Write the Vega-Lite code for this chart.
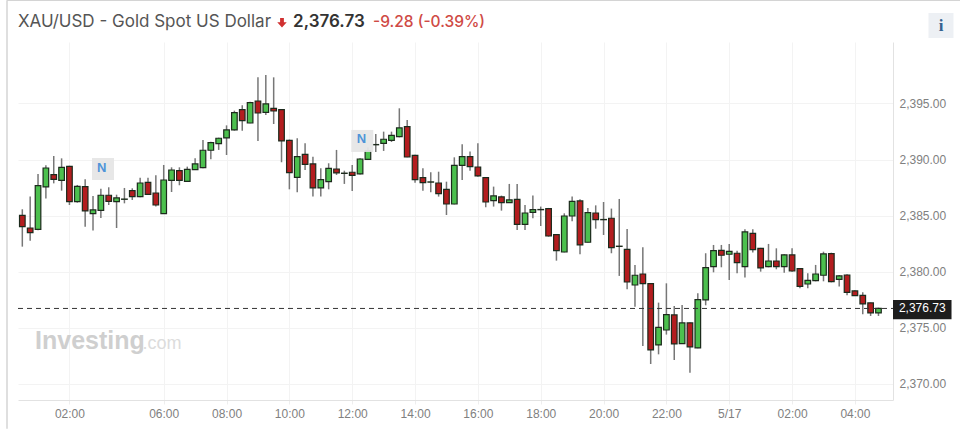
{"$schema":"https://vega.github.io/schema/vega-lite/v6.json","width":875,"height":358,"autosize":"none","padding":{"left":18,"top":42,"right":67,"bottom":29},"background":"#ffffff",
"config":{"view":{"stroke":null},"font":"Liberation Sans"},
"datasets":{"candles":[
{"i":0,"o":2385.03,"h":2385.57,"l":2382.24,"c":2384.02},{"i":1,"o":2383.90,"h":2386.70,"l":2382.77,"c":2383.49},{"i":2,"o":2383.78,"h":2388.72,"l":2383.70,"c":2387.68},{"i":3,"o":2387.56,"h":2389.49,"l":2386.52,"c":2389.25},{"i":4,"o":2388.66,"h":2390.32,"l":2387.88,"c":2388.24},{"i":5,"o":2388.15,"h":2390.11,"l":2387.23,"c":2389.31},{"i":6,"o":2389.40,"h":2389.45,"l":2385.95,"c":2386.25},{"i":7,"o":2386.25,"h":2387.74,"l":2386.16,"c":2387.62},{"i":8,"o":2387.59,"h":2388.24,"l":2384.02,"c":2385.42},{"i":9,"o":2385.18,"h":2386.76,"l":2383.67,"c":2385.51},
{"i":10,"o":2385.48,"h":2387.41,"l":2384.80,"c":2386.82},{"i":11,"o":2386.82,"h":2387.53,"l":2385.95,"c":2386.28},{"i":12,"o":2386.25,"h":2386.87,"l":2383.90,"c":2386.58},{"i":13,"o":2386.46,"h":2387.47,"l":2386.10,"c":2386.48},{"i":14,"o":2387.23,"h":2387.44,"l":2386.40,"c":2386.70},{"i":15,"o":2386.70,"h":2388.39,"l":2386.64,"c":2387.91},{"i":16,"o":2387.97,"h":2388.39,"l":2386.84,"c":2386.90},{"i":17,"o":2387.02,"h":2388.60,"l":2385.81,"c":2385.95},{"i":18,"o":2385.18,"h":2389.52,"l":2385.15,"c":2388.18},{"i":19,"o":2388.15,"h":2389.31,"l":2387.11,"c":2389.07},
{"i":20,"o":2389.01,"h":2389.31,"l":2387.71,"c":2388.15},{"i":21,"o":2388.06,"h":2389.37,"l":2388.00,"c":2389.13},{"i":22,"o":2389.10,"h":2390.11,"l":2389.07,"c":2389.61},{"i":23,"o":2389.28,"h":2391.75,"l":2389.22,"c":2390.83},{"i":24,"o":2390.83,"h":2391.60,"l":2390.02,"c":2391.51},{"i":25,"o":2391.42,"h":2391.95,"l":2390.86,"c":2391.90},{"i":26,"o":2391.93,"h":2393.05,"l":2390.41,"c":2392.64},{"i":27,"o":2392.64,"h":2394.36,"l":2392.58,"c":2394.18},{"i":28,"o":2394.45,"h":2394.84,"l":2392.58,"c":2393.47},{"i":29,"o":2393.26,"h":2395.16,"l":2393.23,"c":2395.07},
{"i":30,"o":2395.22,"h":2397.33,"l":2391.66,"c":2394.15},{"i":31,"o":2394.21,"h":2397.54,"l":2393.98,"c":2394.96},{"i":32,"o":2394.57,"h":2397.33,"l":2393.17,"c":2394.33},{"i":33,"o":2394.45,"h":2394.50,"l":2389.76,"c":2391.66},{"i":34,"o":2391.72,"h":2391.78,"l":2387.35,"c":2388.84},{"i":35,"o":2388.42,"h":2391.90,"l":2387.08,"c":2390.26},{"i":36,"o":2390.47,"h":2391.45,"l":2389.07,"c":2389.58},{"i":37,"o":2389.61,"h":2390.26,"l":2386.70,"c":2387.47},{"i":38,"o":2387.47,"h":2389.22,"l":2386.70,"c":2388.21},{"i":39,"o":2388.03,"h":2389.67,"l":2387.35,"c":2389.22},
{"i":40,"o":2389.16,"h":2390.86,"l":2388.63,"c":2388.81},{"i":41,"o":2388.77,"h":2389.01,"l":2387.83,"c":2388.79},{"i":42,"o":2388.87,"h":2389.52,"l":2387.20,"c":2388.60},{"i":43,"o":2388.72,"h":2390.11,"l":2388.66,"c":2390.05},{"i":44,"o":2390.02,"h":2391.09,"l":2389.96,"c":2390.80},{"i":45,"o":2391.32,"h":2392.28,"l":2390.68,"c":2391.34},{"i":46,"o":2391.45,"h":2392.49,"l":2390.77,"c":2391.81},{"i":47,"o":2391.72,"h":2392.49,"l":2391.57,"c":2392.16},{"i":48,"o":2392.04,"h":2394.57,"l":2391.98,"c":2392.82},{"i":49,"o":2392.94,"h":2393.53,"l":2390.20,"c":2390.23},
{"i":50,"o":2390.38,"h":2390.42,"l":2387.94,"c":2388.21},{"i":51,"o":2388.39,"h":2389.22,"l":2387.23,"c":2387.94},{"i":52,"o":2387.99,"h":2388.87,"l":2387.08,"c":2388.01},{"i":53,"o":2387.91,"h":2388.92,"l":2386.70,"c":2386.96},{"i":54,"o":2387.35,"h":2388.03,"l":2385.06,"c":2386.04},{"i":55,"o":2386.04,"h":2390.20,"l":2386.01,"c":2389.49},{"i":56,"o":2389.49,"h":2391.36,"l":2388.18,"c":2390.26},{"i":57,"o":2390.26,"h":2390.71,"l":2389.01,"c":2389.37},{"i":58,"o":2389.34,"h":2391.45,"l":2388.48,"c":2388.54},{"i":59,"o":2388.39,"h":2388.43,"l":2385.75,"c":2386.22},
{"i":60,"o":2386.34,"h":2387.59,"l":2385.81,"c":2386.76},{"i":61,"o":2386.67,"h":2386.79,"l":2385.45,"c":2386.16},{"i":62,"o":2386.16,"h":2387.83,"l":2386.14,"c":2386.40},{"i":63,"o":2386.46,"h":2387.83,"l":2383.73,"c":2384.23},{"i":64,"o":2384.23,"h":2385.95,"l":2383.73,"c":2385.24},{"i":65,"o":2385.30,"h":2386.79,"l":2384.77,"c":2385.54},{"i":66,"o":2385.53,"h":2385.81,"l":2384.08,"c":2385.55},{"i":67,"o":2385.63,"h":2385.69,"l":2383.13,"c":2383.19},{"i":68,"o":2383.31,"h":2383.35,"l":2380.99,"c":2381.88},{"i":69,"o":2381.76,"h":2385.21,"l":2381.73,"c":2384.97},
{"i":70,"o":2384.97,"h":2386.70,"l":2384.50,"c":2386.28},{"i":71,"o":2386.31,"h":2386.46,"l":2381.56,"c":2382.39},{"i":72,"o":2382.63,"h":2385.69,"l":2382.60,"c":2385.27},{"i":73,"o":2385.24,"h":2385.92,"l":2383.84,"c":2384.65},{"i":74,"o":2384.64,"h":2386.22,"l":2383.28,"c":2384.66},{"i":75,"o":2384.77,"h":2385.63,"l":2381.65,"c":2382.15},{"i":76,"o":2382.26,"h":2386.49,"l":2379.63,"c":2382.28},{"i":77,"o":2382.00,"h":2383.81,"l":2378.44,"c":2379.09},{"i":78,"o":2378.82,"h":2380.61,"l":2376.89,"c":2379.69},{"i":79,"o":2379.80,"h":2382.18,"l":2373.39,"c":2378.94},
{"i":80,"o":2378.94,"h":2378.98,"l":2371.78,"c":2373.03},{"i":81,"o":2373.48,"h":2377.25,"l":2372.64,"c":2375.05},{"i":82,"o":2374.81,"h":2378.97,"l":2374.40,"c":2376.18},{"i":83,"o":2376.15,"h":2376.95,"l":2372.14,"c":2373.57},{"i":84,"o":2373.59,"h":2377.04,"l":2373.57,"c":2375.44},{"i":85,"o":2375.44,"h":2375.48,"l":2371.01,"c":2373.30},{"i":86,"o":2373.21,"h":2378.08,"l":2373.18,"c":2377.52},{"i":87,"o":2377.49,"h":2381.65,"l":2377.01,"c":2380.37},{"i":88,"o":2380.46,"h":2382.39,"l":2379.95,"c":2381.88},{"i":89,"o":2381.91,"h":2382.39,"l":2380.40,"c":2381.47},
{"i":90,"o":2381.56,"h":2382.48,"l":2379.27,"c":2381.82},{"i":91,"o":2381.65,"h":2381.88,"l":2379.86,"c":2380.81},{"i":92,"o":2380.46,"h":2383.78,"l":2379.48,"c":2383.55},{"i":93,"o":2383.43,"h":2383.78,"l":2381.71,"c":2381.97},{"i":94,"o":2382.09,"h":2382.13,"l":2380.01,"c":2380.34},{"i":95,"o":2380.46,"h":2382.48,"l":2380.40,"c":2380.96},{"i":96,"o":2380.96,"h":2382.09,"l":2380.22,"c":2380.46},{"i":97,"o":2380.46,"h":2381.56,"l":2379.92,"c":2381.50},{"i":98,"o":2381.50,"h":2382.09,"l":2380.01,"c":2380.07},{"i":99,"o":2380.28,"h":2380.32,"l":2378.53,"c":2378.70},
{"i":100,"o":2378.91,"h":2379.86,"l":2378.53,"c":2379.24},{"i":101,"o":2379.21,"h":2380.61,"l":2379.15,"c":2379.80},{"i":102,"o":2379.69,"h":2381.79,"l":2379.15,"c":2381.59},{"i":103,"o":2381.62,"h":2381.70,"l":2379.06,"c":2379.12},{"i":104,"o":2379.33,"h":2379.71,"l":2378.68,"c":2379.63},{"i":105,"o":2379.71,"h":2379.77,"l":2377.90,"c":2378.17},{"i":106,"o":2378.29,"h":2378.35,"l":2377.84,"c":2377.87},{"i":107,"o":2377.90,"h":2378.17,"l":2376.21,"c":2377.13},{"i":108,"o":2377.22,"h":2377.25,"l":2376.06,"c":2376.33},{"i":109,"o":2376.33,"h":2376.80,"l":2376.06,"c":2376.73}]},
"layer":[
{"data":{"name":"candles"},"mark":{"type":"rule","stroke":"#777777","strokeWidth":1.5,"clip":false},"encoding":{
"x":{"field":"i","type":"quantitative","scale":{"domain":[-0.55,110.85],"nice":false,"zero":false,"padding":0},"title":null,"axis":{"orient":"bottom","values":[6,18,26,34,42,50,58,66,74,82,90,98,106],"labelExpr":"{'6':'02:00','18':'06:00','26':'08:00','34':'10:00','42':'12:00','50':'14:00','58':'16:00','66':'18:00','74':'20:00','82':'22:00','90':'5/17','98':'02:00','106':'04:00'}[datum.value]","grid":true,"gridColor":"#f3f3f3","domainColor":"#e2e2e2","tickColor":"#eeeeee","tickSize":4,"labelColor":"#808080","labelFontSize":12,"labelPadding":4,"labelFont":"Liberation Sans"}},
"y":{"field":"l","type":"quantitative","scale":{"domain":[2368.57,2400.48],"nice":false,"zero":false},"title":null,"axis":{"orient":"right","values":[2370,2375,2380,2385,2390,2395],"format":",.2f","grid":true,"gridColor":"#f3f3f3","domainColor":"#e2e2e2","ticks":false,"labelColor":"#808080","labelFontSize":12,"labelPadding":6,"labelFont":"Liberation Sans"}},
"y2":{"field":"h"}}},
{"data":{"name":"candles"},"mark":{"type":"bar","size":5.6,"stroke":"#1c2a1c","strokeWidth":1.2},"encoding":{
"x":{"field":"i","type":"quantitative","scale":{"domain":[-0.55,110.85],"nice":false,"zero":false,"padding":0}},
"y":{"field":"o","type":"quantitative","scale":{"domain":[2368.57,2400.48],"nice":false,"zero":false}},"y2":{"field":"c"},
"fill":{"condition":{"test":"datum.c>=datum.o","value":"#4cc04e"},"value":"#b31d1f"}}},
{"data":{"values":[{"i":-0.55,"i2":110.85,"p":2376.73}]},"mark":{"type":"rule","stroke":"#333333","strokeWidth":1,"strokeDash":[5,4]},"encoding":{
"x":{"field":"i","type":"quantitative","scale":{"domain":[-0.55,110.85],"nice":false,"zero":false,"padding":0}},"x2":{"field":"i2"},
"y":{"field":"p","type":"quantitative","scale":{"domain":[2368.57,2400.48],"nice":false,"zero":false}}}},
{"data":{"values":[{"i":110.85,"i2":118.3,"p":2377.49,"p2":2375.77}]},"mark":{"type":"rect","fill":"#1d1d1d"},"encoding":{
"x":{"field":"i","type":"quantitative","scale":{"domain":[-0.55,110.85],"nice":false,"zero":false,"padding":0}},"x2":{"field":"i2"},
"y":{"field":"p","type":"quantitative","scale":{"domain":[2368.57,2400.48],"nice":false,"zero":false}},"y2":{"field":"p2"}}},
{"data":{"values":[{"i":111.6,"p":2376.73,"t":"2,376.73"}]},"mark":{"type":"text","align":"left","baseline":"middle","font":"Liberation Sans","fontSize":12,"fill":"#ffffff"},"encoding":{
"x":{"field":"i","type":"quantitative","scale":{"domain":[-0.55,110.85],"nice":false,"zero":false,"padding":0}},
"y":{"field":"p","type":"quantitative","scale":{"domain":[2368.57,2400.48],"nice":false,"zero":false}},"text":{"field":"t"}}},
{"data":{"values":[{"i":-1.95,"i2":119.4,"p":2404.2,"p2":2404.2},{"i":-1.95,"i2":-1.95,"p":2404.2,"p2":2366}]},"mark":{"type":"rule","stroke":"#d4d4d4","strokeWidth":1.5,"clip":false},"encoding":{
"x":{"field":"i","type":"quantitative","scale":{"domain":[-0.55,110.85],"nice":false,"zero":false,"padding":0}},"x2":{"field":"i2"},
"y":{"field":"p","type":"quantitative","scale":{"domain":[2368.57,2400.48],"nice":false,"zero":false}},"y2":{"field":"p2"}}},
{"data":{"values":[{"i":10.27,"p":2389.16},{"i":43.28,"p":2391.66}]},"mark":{"type":"point","shape":"square","size":484,"filled":true,"fill":"#e6e6e6","opacity":0.95},"encoding":{
"x":{"field":"i","type":"quantitative","scale":{"domain":[-0.55,110.85],"nice":false,"zero":false,"padding":0}},
"y":{"field":"p","type":"quantitative","scale":{"domain":[2368.57,2400.48],"nice":false,"zero":false}}}},
{"data":{"values":[{"i":10.1,"p":2389.21,"t":"N"},{"i":43.16,"p":2391.84,"t":"N"}]},"mark":{"type":"text","font":"Liberation Sans","fontWeight":"bold","fontSize":13,"fill":"#4f94d8","align":"center","baseline":"middle"},"encoding":{
"x":{"field":"i","type":"quantitative","scale":{"domain":[-0.55,110.85],"nice":false,"zero":false,"padding":0}},
"y":{"field":"p","type":"quantitative","scale":{"domain":[2368.57,2400.48],"nice":false,"zero":false}},"text":{"field":"t"}}},
{"data":{"values":[{"i":1.62,"p":2373.1,"t":"Investing"}]},"mark":{"type":"text","font":"Liberation Sans","fontWeight":"bold","fontSize":25,"fill":"#cfcfcf","align":"left","baseline":"alphabetic"},"encoding":{
"x":{"field":"i","type":"quantitative","scale":{"domain":[-0.55,110.85],"nice":false,"zero":false,"padding":0}},
"y":{"field":"p","type":"quantitative","scale":{"domain":[2368.57,2400.48],"nice":false,"zero":false}},"text":{"field":"t"}}},
{"data":{"values":[{"i":15.3,"p":2373.1,"t":".com"}]},"mark":{"type":"text","font":"Liberation Sans","fontSize":18,"fill":"#dcdcdc","align":"left","baseline":"alphabetic"},"encoding":{
"x":{"field":"i","type":"quantitative","scale":{"domain":[-0.55,110.85],"nice":false,"zero":false,"padding":0}},
"y":{"field":"p","type":"quantitative","scale":{"domain":[2368.57,2400.48],"nice":false,"zero":false}},"text":{"field":"t"}}},
{"data":{"values":[{"i":-0.55,"p":2401.82,"t":"XAU/USD - Gold Spot US Dollar"}]},"mark":{"type":"text","font":"Inter","fontWeight":400,"fontSize":17,"fill":"#555555","align":"left","baseline":"alphabetic"},"encoding":{
"x":{"field":"i","type":"quantitative","scale":{"domain":[-0.55,110.85],"nice":false,"zero":false,"padding":0}},
"y":{"field":"p","type":"quantitative","scale":{"domain":[2368.57,2400.48],"nice":false,"zero":false}},"text":{"field":"t"}}},
{"data":{"values":[{"i":33.06,"p":2402.2}]},"mark":{"type":"point","shape":"M-0.4,-1L0.4,-1L0.4,-0.1L1,-0.1L0,1L-1,-0.1L-0.4,-0.1Z","size":90,"filled":true,"fill":"#d03030","opacity":1},"encoding":{
"x":{"field":"i","type":"quantitative","scale":{"domain":[-0.55,110.85],"nice":false,"zero":false,"padding":0}},
"y":{"field":"p","type":"quantitative","scale":{"domain":[2368.57,2400.48],"nice":false,"zero":false}}}},
{"data":{"values":[{"i":34.47,"p":2401.82,"t":"2,376.73"}]},"mark":{"type":"text","font":"Inter","fontWeight":600,"fontSize":17,"fill":"#333333","align":"left","baseline":"alphabetic"},"encoding":{
"x":{"field":"i","type":"quantitative","scale":{"domain":[-0.55,110.85],"nice":false,"zero":false,"padding":0}},
"y":{"field":"p","type":"quantitative","scale":{"domain":[2368.57,2400.48],"nice":false,"zero":false}},"text":{"field":"t"}}},
{"data":{"values":[{"i":44.65,"p":2401.82,"t":"-9.28  (-0.39%)"}]},"mark":{"type":"text","font":"Inter","fontWeight":500,"fontSize":15.5,"fill":"#cf4a45","align":"left","baseline":"alphabetic"},"encoding":{
"x":{"field":"i","type":"quantitative","scale":{"domain":[-0.55,110.85],"nice":false,"zero":false,"padding":0}},
"y":{"field":"p","type":"quantitative","scale":{"domain":[2368.57,2400.48],"nice":false,"zero":false}},"text":{"field":"t"}}},
{"data":{"values":[{"i":116.96,"p":2401.95}]},"mark":{"type":"point","shape":"square","size":625,"filled":true,"fill":"#edf0f4","opacity":1},"encoding":{
"x":{"field":"i","type":"quantitative","scale":{"domain":[-0.55,110.85],"nice":false,"zero":false,"padding":0}},
"y":{"field":"p","type":"quantitative","scale":{"domain":[2368.57,2400.48],"nice":false,"zero":false}}}},
{"data":{"values":[{"i":116.96,"p":2401.95,"t":"i"}]},"mark":{"type":"text","font":"Liberation Serif","fontWeight":"bold","fontSize":17,"fill":"#35618f","align":"center","baseline":"middle"},"encoding":{
"x":{"field":"i","type":"quantitative","scale":{"domain":[-0.55,110.85],"nice":false,"zero":false,"padding":0}},
"y":{"field":"p","type":"quantitative","scale":{"domain":[2368.57,2400.48],"nice":false,"zero":false}},"text":{"field":"t"}}}
]}
